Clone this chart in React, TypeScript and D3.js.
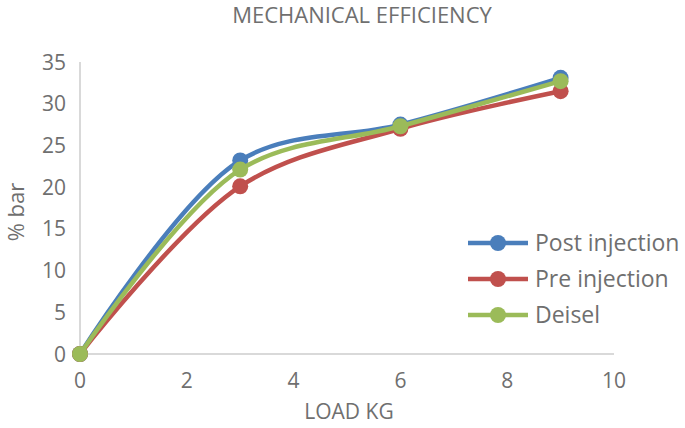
import React, { useRef, useEffect } from "react";
import * as d3 from "d3";

const loads = [0, 3, 6, 9];
const postInjection = [0, 23.2, 27.5, 33.1];
const preInjection = [0, 20.1, 27.0, 31.5];
const deisel = [0, 22.1, 27.3, 32.7];
const seriesNames = ["Post injection", "Pre injection", "Deisel"];
const seriesColors = ["#4a7ebb", "#c0504d", "#9bbb59"];
const xTicks = [0, 2, 4, 6, 8, 10];
const yTicks = [0, 5, 10, 15, 20, 25, 30, 35];

const FONT = "'Open Sans', 'Liberation Sans', sans-serif";
const GRAY = "#6f6f6f";

const Chart = () => {
    const ref = useRef<SVGSVGElement | null>(null);

    useEffect(() => {
        const svg = d3.select(ref.current);
        svg.selectAll("*").remove();

        const x = d3.scaleLinear().domain([0, 10]).range([80, 614]);
        const y = d3.scaleLinear().domain([0, 35]).range([354, 62]);

        // title
        svg.append("text")
            .attr("x", 362).attr("y", 23)
            .attr("text-anchor", "middle")
            .attr("font-family", FONT).attr("font-size", 22)
            .attr("fill", GRAY)
            .text("MECHANICAL EFFICIENCY");

        // axes lines
        svg.append("line")
            .attr("x1", x(0)).attr("x2", x(0))
            .attr("y1", y(35)).attr("y2", y(0))
            .attr("stroke", "#d9d9d9").attr("stroke-width", 2);
        svg.append("line")
            .attr("x1", x(0)).attr("x2", x(10))
            .attr("y1", y(0)).attr("y2", y(0))
            .attr("stroke", "#d9d9d9").attr("stroke-width", 2);

        // tick labels
        svg.append("g").selectAll("text")
            .data(yTicks).enter().append("text")
            .attr("x", 66).attr("y", (d) => y(d))
            .attr("dy", "0.36em")
            .attr("text-anchor", "end")
            .attr("font-family", FONT).attr("font-size", 21)
            .attr("fill", GRAY)
            .text((d) => d);
        svg.append("g").selectAll("text")
            .data(xTicks).enter().append("text")
            .attr("x", (d) => x(d)).attr("y", 388)
            .attr("text-anchor", "middle")
            .attr("font-family", FONT).attr("font-size", 21)
            .attr("fill", GRAY)
            .text((d) => d);

        // axis titles
        svg.append("text")
            .attr("transform", `translate(24,212) rotate(-90)`)
            .attr("text-anchor", "middle")
            .attr("font-family", FONT).attr("font-size", 22)
            .attr("fill", GRAY)
            .text("% bar");
        svg.append("text")
            .attr("x", 349).attr("y", 419)
            .attr("text-anchor", "middle")
            .attr("font-family", FONT).attr("font-size", 21)
            .attr("fill", GRAY)
            .text("LOAD KG");

        const allSeries = [postInjection, preInjection, deisel];
        const line = d3.line<number>()
            .x((_, i) => x(loads[i]))
            .y((d) => y(d))
            .curve(d3.curveCatmullRom.alpha(0.5));

        allSeries.forEach((vals, si) => {
            const g = svg.append("g");
            g.append("path")
                .datum(vals)
                .attr("d", line)
                .attr("fill", "none")
                .attr("stroke", seriesColors[si])
                .attr("stroke-width", 4.5)
                .attr("stroke-linecap", "round");
            g.selectAll("circle")
                .data(vals).enter().append("circle")
                .attr("cx", (_, i) => x(loads[i]))
                .attr("cy", (d) => y(d))
                .attr("r", 8)
                .attr("fill", seriesColors[si]);
        });

        // legend
        const legend = svg.append("g");
        seriesNames.forEach((name, i) => {
            const ly = 243 + i * 36;
            legend.append("line")
                .attr("x1", 468).attr("x2", 528)
                .attr("y1", ly).attr("y2", ly)
                .attr("stroke", seriesColors[i]).attr("stroke-width", 4.5);
            legend.append("circle")
                .attr("cx", 498).attr("cy", ly).attr("r", 8)
                .attr("fill", seriesColors[i]);
            legend.append("text")
                .attr("x", 535).attr("y", ly)
                .attr("dy", "0.36em")
                .attr("font-family", FONT).attr("font-size", 23)
                .attr("fill", GRAY)
                .text(name);
        });
    }, []);

    return (
        <svg
            ref={ref}
            width={685}
            height={428}
            viewBox="0 0 685 428"
            style={{ position: "absolute", left: 0, top: 0, background: "#fff" }}
        />
    );
};

export default function App() {
    return <Chart />;
}
